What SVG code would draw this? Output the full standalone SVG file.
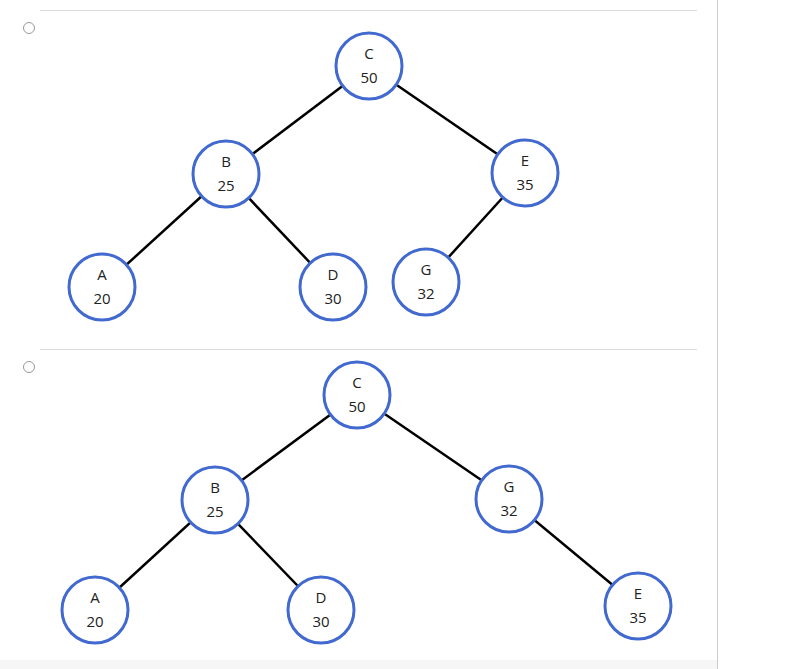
<svg xmlns="http://www.w3.org/2000/svg" width="787" height="669" viewBox="0 0 787 669">
<style>
.n circle{fill:#fff;stroke:#4169cf;stroke-width:3}
.n text{font-family:"Open Sans","Liberation Sans",sans-serif;font-size:15px;fill:#222;text-anchor:middle}
.e line{stroke:#000;stroke-width:2.5}
.sep{stroke:#ddd;stroke-width:1}
</style>
<rect width="787" height="669" fill="#fff"/>
<rect x="0" y="660" width="717" height="9" fill="#f6f6f6"/>
<line class="sep" x1="40" y1="10.5" x2="697" y2="10.5"/>
<line class="sep" x1="40" y1="349.5" x2="697" y2="349.5"/>
<line x1="717.5" y1="0" x2="717.5" y2="669" stroke="#ccc"/>
<circle cx="29" cy="28" r="5.5" fill="#fff" stroke="#999"/>
<circle cx="29" cy="367" r="5.5" fill="#fff" stroke="#999"/>
<g class="e">
<line x1="369" y1="66" x2="226" y2="174"/><line x1="369" y1="66" x2="525" y2="173"/>
<line x1="226" y1="174" x2="102" y2="287"/><line x1="226" y1="174" x2="333" y2="287"/>
<line x1="525" y1="173" x2="426" y2="282"/>
<line x1="357" y1="395" x2="215" y2="500"/><line x1="357" y1="395" x2="509" y2="499"/>
<line x1="215" y1="500" x2="95" y2="610"/><line x1="215" y1="500" x2="321" y2="610"/>
<line x1="509" y1="499" x2="638" y2="606"/>
</g>
<g id="t-C" class="n"><circle cx="369" cy="66" r="33"/><text x="369" y="59">C</text><text x="369" y="83">50</text></g>
<g id="t-B" class="n"><circle cx="226" cy="174" r="33"/><text x="226" y="167">B</text><text x="226" y="191">25</text></g>
<g id="t-E" class="n"><circle cx="525" cy="173" r="33"/><text x="525" y="166">E</text><text x="525" y="190">35</text></g>
<g id="t-A" class="n"><circle cx="102" cy="287" r="33"/><text x="102" y="280">A</text><text x="102" y="304">20</text></g>
<g id="t-D" class="n"><circle cx="333" cy="287" r="33"/><text x="333" y="280">D</text><text x="333" y="304">30</text></g>
<g id="t-G" class="n"><circle cx="426" cy="282" r="33"/><text x="426" y="275">G</text><text x="426" y="299">32</text></g>
<g id="b-C" class="n"><circle cx="357" cy="395" r="33"/><text x="357" y="388">C</text><text x="357" y="412">50</text></g>
<g id="b-B" class="n"><circle cx="215" cy="500" r="33"/><text x="215" y="493">B</text><text x="215" y="517">25</text></g>
<g id="b-G" class="n"><circle cx="509" cy="499" r="33"/><text x="509" y="492">G</text><text x="509" y="516">32</text></g>
<g id="b-A" class="n"><circle cx="95" cy="610" r="33"/><text x="95" y="603">A</text><text x="95" y="627">20</text></g>
<g id="b-D" class="n"><circle cx="321" cy="610" r="33"/><text x="321" y="603">D</text><text x="321" y="627">30</text></g>
<g id="b-E" class="n"><circle cx="638" cy="606" r="33"/><text x="638" y="599">E</text><text x="638" y="623">35</text></g>
</svg>
